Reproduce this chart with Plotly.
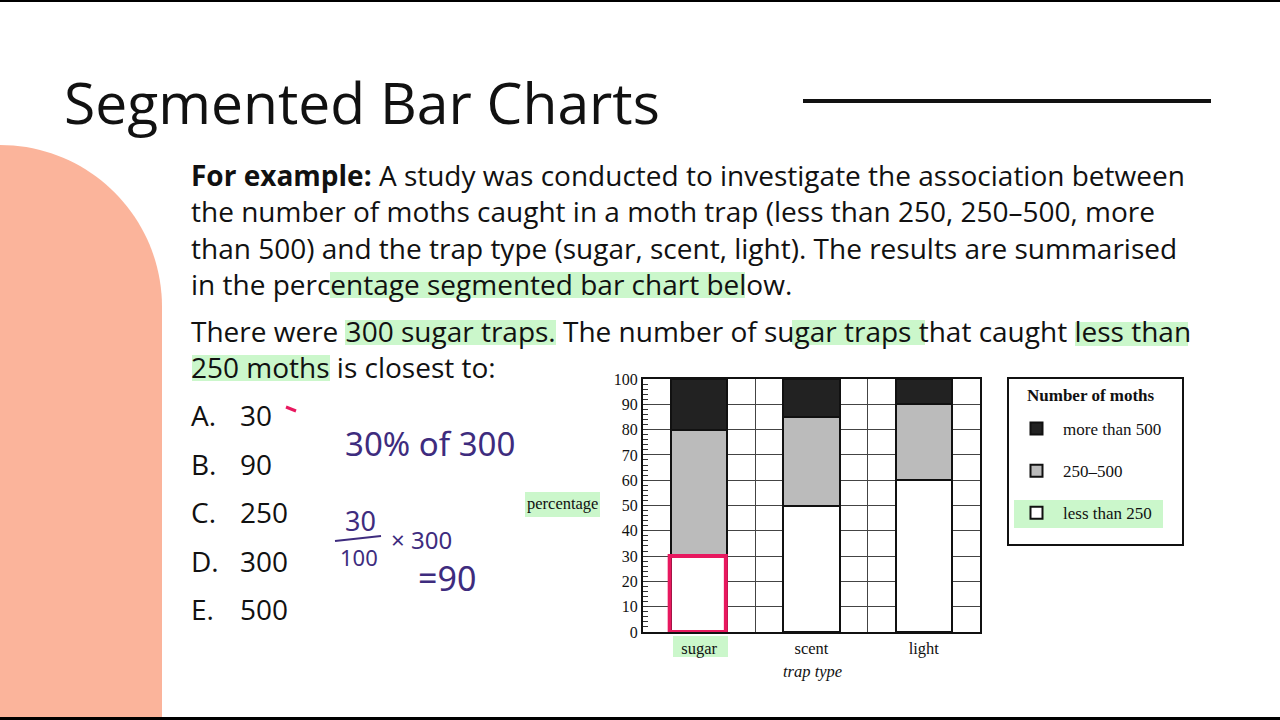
import plotly.graph_objects as go

# ---------------- data ----------------
trap_types = ["sugar", "scent", "light"]
series_names = ["less than 250", "250–500", "more than 500"]
less_than_250 = [30, 50, 60]
between_250_500 = [50, 35, 30]
more_than_500 = [20, 15, 10]
series_colors = ["#FFFFFF", "#BBBBBB", "#222222"]
y_ticks = [0, 10, 20, 30, 40, 50, 60, 70, 80, 90, 100]
legend_title = "Number of moths"

answer_letters = ["A.", "B.", "C.", "D.", "E."]
answer_values = ["30", "90", "250", "300", "500"]

W, H = 1280, 720


def X(px):
    return px / W


def Y(py):
    return 1 - py / H


BODY = "Open Sans"
SERIF = "Liberation Serif"
HAND = "Noto Sans"
PURPLE = "#3E2C7E"
PINK = "#E8185F"
GREEN = "rgba(175,242,175,0.65)"

# bar positions on a 12-cell grid: each bar spans two cells, centred in every 4-cell block
bar_w = 2
xs = [4 * i + 2 for i in range(len(trap_types))]

fig = go.Figure()
n = len(series_names)
for i, (name, vals, col) in enumerate(zip(series_names,
                                          [less_than_250, between_250_500, more_than_500],
                                          series_colors)):
    fig.add_trace(go.Bar(
        x=xs, y=vals, width=bar_w, name=name, legendgroup=name, legendrank=n - i,
        marker=dict(color=col, line=dict(color="#111111", width=2)),
        hoverinfo="skip",
    ))

shapes = []
annotations = []

# salmon background shape (quarter circle top, straight right side)
k = 0.5523
r_x, cy, top = 162, 307, 145
path = (f"M {X(0)},0 L {X(0)},{Y(top)} "
        f"C {X(r_x * k)},{Y(top)} {X(r_x)},{Y(cy - (cy - top) * k)} {X(r_x)},{Y(cy)} "
        f"L {X(r_x)},0 Z")
shapes.append(dict(type="path", xref="paper", yref="paper", path=path,
                   fillcolor="#FBB49B", line=dict(width=0), layer="below"))

# top / bottom frame bars
shapes.append(dict(type="rect", xref="paper", yref="paper", x0=0, x1=1, y0=Y(2), y1=1,
                   fillcolor="#000", line=dict(width=0), layer="above"))
shapes.append(dict(type="rect", xref="paper", yref="paper", x0=0, x1=1, y0=0, y1=Y(717),
                   fillcolor="#000", line=dict(width=0), layer="above"))

# title rule
shapes.append(dict(type="line", xref="paper", yref="paper", x0=X(803), x1=X(1211),
                   y0=Y(101), y1=Y(101), line=dict(color="#111", width=4)))

# green highlighter strokes
for (x0, x1, y0, y1) in [(330, 745, 272, 298), (345, 556, 320, 345), (792, 925, 320, 345),
                         (1075, 1188, 322, 346), (192, 330, 355, 381), (525, 600, 492, 517),
                         (673, 728, 636, 657), (1014, 1163, 500, 528)]:
    shapes.append(dict(type="rect", xref="paper", yref="paper", x0=X(x0), x1=X(x1),
                       y0=Y(y1), y1=Y(y0), fillcolor=GREEN, line=dict(width=0),
                       layer="below"))

# legend frame
shapes.append(dict(type="rect", xref="paper", yref="paper", x0=X(1008), x1=X(1183),
                   y0=Y(545), y1=Y(378), line=dict(color="#111", width=2),
                   fillcolor="rgba(0,0,0,0)", layer="above"))

# pink box around the sugar "less than 250" segment
shapes.append(dict(type="rect", xref="x", yref="y",
                   x0=xs[0] - bar_w / 2 - 0.05, x1=xs[0] + bar_w / 2 - 0.05,
                   y0=0, y1=less_than_250[0],
                   line=dict(color=PINK, width=4), layer="above"))

# pink tick mark next to answer A
shapes.append(dict(type="line", xref="paper", yref="paper", x0=X(286), x1=X(296),
                   y0=Y(407), y1=Y(411), line=dict(color=PINK, width=3)))

# handwritten fraction bar
shapes.append(dict(type="line", xref="paper", yref="paper", x0=X(335), x1=X(381),
                   y0=Y(541), y1=Y(536), line=dict(color=PURPLE, width=2)))


def txt(x, y, s, size, family=BODY, color="#111", xanchor="left", yanchor="middle"):
    annotations.append(dict(text=s, x=X(x), y=Y(y), xref="paper", yref="paper",
                            showarrow=False, xanchor=xanchor, yanchor=yanchor, align="left",
                            font=dict(family=family, size=size, color=color)))


# title
txt(62, 102, "Segmented Bar Charts", 57)

# body text (two paragraphs)
para1 = ("<b>For example:</b> A study was conducted to investigate the association between<br>"
         "the number of moths caught in a moth trap (less than 250, 250–500, more<br>"
         "than 500) and the trap type (sugar, scent, light). The results are summarised<br>"
         "in the percentage segmented bar chart below.")
para2 = ("There were 300 sugar traps. The number of sugar traps that caught less than<br>"
         "250 moths is closest to:")
txt(189, 230, para1, 28)
txt(189, 349.5, para2, 28)

for i, (l, v) in enumerate(zip(answer_letters, answer_values)):
    yy = 415 + i * 48.5
    txt(189, yy, l, 28)
    txt(238, yy, v, 28)

# handwriting
txt(343, 443, "30% of 300", 33, family=HAND, color=PURPLE)
txt(360, 520, "30", 27, family=HAND, color=PURPLE, xanchor="center")
txt(359, 557, "100", 22, family=HAND, color=PURPLE, xanchor="center")
txt(389, 539, "× 300", 24, family=HAND, color=PURPLE)
txt(416, 578, "=90", 34, family=HAND, color=PURPLE)

# chart labels
txt(562, 504, "percentage", 16.5, family=SERIF, xanchor="center")
txt(812, 671, "<i>trap type</i>", 16.5, family=SERIF, xanchor="center")
txt(1025, 395, f"<b>{legend_title}</b>", 17, family=SERIF)

grid_col = "#444444"
fig.update_layout(
    margin=dict(l=0, r=0, t=0, b=0, pad=0, autoexpand=False),
    paper_bgcolor="white", plot_bgcolor="rgba(0,0,0,0)",
    barmode="stack", bargap=0,
    shapes=shapes, annotations=annotations,
    xaxis=dict(domain=[X(643), X(980)], range=[0, 12], tickvals=xs, ticktext=trap_types,
               showgrid=True, gridcolor=grid_col, gridwidth=1, ticks="",
               minor=dict(dtick=1, tick0=0, showgrid=True, gridcolor=grid_col, gridwidth=1),
               showline=True, mirror=True, linecolor="#111", linewidth=2,
               zeroline=False, fixedrange=True, automargin=False,
               tickfont=dict(family=SERIF, size=16.5, color="#111")),
    yaxis=dict(domain=[Y(632), Y(379)], range=[0, 100], tickvals=y_ticks,
               showgrid=True, gridcolor=grid_col, gridwidth=1,
               ticks="inside", ticklen=5, tickcolor="#333", tickwidth=1,
               minor=dict(dtick=2, tick0=0, ticks="inside", ticklen=5, tickcolor="#333",
                          showgrid=False),
               showline=True, mirror=True, linecolor="#111", linewidth=2,
               zeroline=False, fixedrange=True, automargin=False,
               tickfont=dict(family=SERIF, size=16, color="#111")),
    showlegend=True,
    legend=dict(x=X(1010), y=Y(411), xanchor="left", yanchor="top",
                borderwidth=0, bgcolor="rgba(255,255,255,0)",
                font=dict(family=SERIF, size=17, color="#111"),
                traceorder="grouped", tracegroupgap=17,
                itemwidth=43),
)

fig.write_html("out.html", config={"displayModeBar": False},
               default_width="1280px;position:absolute;left:0;top:0",
               default_height="720px")
